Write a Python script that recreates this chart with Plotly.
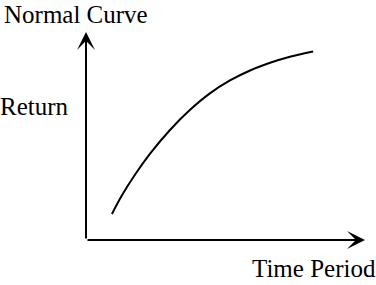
import plotly.graph_objects as go

# Curve data (Time Period vs Return), in axis units
time_period = [0.93, 1.29, 1.76, 2.29, 3.01, 3.73, 4.44, 5.16, 5.88, 6.60, 7.31, 8.14]
returns = [1.25, 2.15, 3.15, 4.14, 5.29, 6.26, 7.05, 7.67, 8.15, 8.52, 8.81, 9.06]

x_max = 10
y_max = 10

title_text = "Normal Curve"
y_label = "Return"
x_label = "Time Period"

W, H = 376, 285
FONT = dict(family="Liberation Serif, Times New Roman, serif", size=25, color="black")

fig = go.Figure()
fig.add_trace(go.Scatter(
    x=time_period, y=returns, mode="lines",
    line=dict(color="black", width=2, shape="spline", smoothing=1.0),
    hoverinfo="skip", showlegend=False,
))

def px(x):
    return x / W

def py(y):
    return 1 - y / H

annotations = [
    # axes with arrowheads
    dict(x=x_max, y=0, ax=0, ay=0, xref="x", yref="y", axref="x", ayref="y",
         text="", showarrow=True, arrowhead=3, arrowsize=1.5, arrowwidth=2,
         arrowcolor="black", standoff=0, startstandoff=0),
    dict(x=0, y=y_max, ax=0, ay=0, xref="x", yref="y", axref="x", ayref="y",
         text="", showarrow=True, arrowhead=3, arrowsize=1.5, arrowwidth=2,
         arrowcolor="black", standoff=0, startstandoff=0),
    dict(x=px(2), y=py(15), xref="paper", yref="paper", text=title_text,
         showarrow=False, xanchor="left", yanchor="middle", font=FONT),
    dict(x=px(-2), y=py(106), xref="paper", yref="paper", text=y_label,
         showarrow=False, xanchor="left", yanchor="middle", font=FONT),
    dict(x=px(378), y=py(268), xref="paper", yref="paper", text=x_label,
         showarrow=False, xanchor="right", yanchor="middle", font=FONT),
]

fig.update_layout(
    width=W, height=H,
    margin=dict(l=0, r=0, t=0, b=0),
    paper_bgcolor="white", plot_bgcolor="white",
    xaxis=dict(domain=[86 / W, 365 / W], range=[0, x_max], visible=False),
    yaxis=dict(domain=[(H - 240) / H, (H - 32) / H], range=[0, y_max], visible=False),
    annotations=annotations,
)

fig.write_html("out.html")
